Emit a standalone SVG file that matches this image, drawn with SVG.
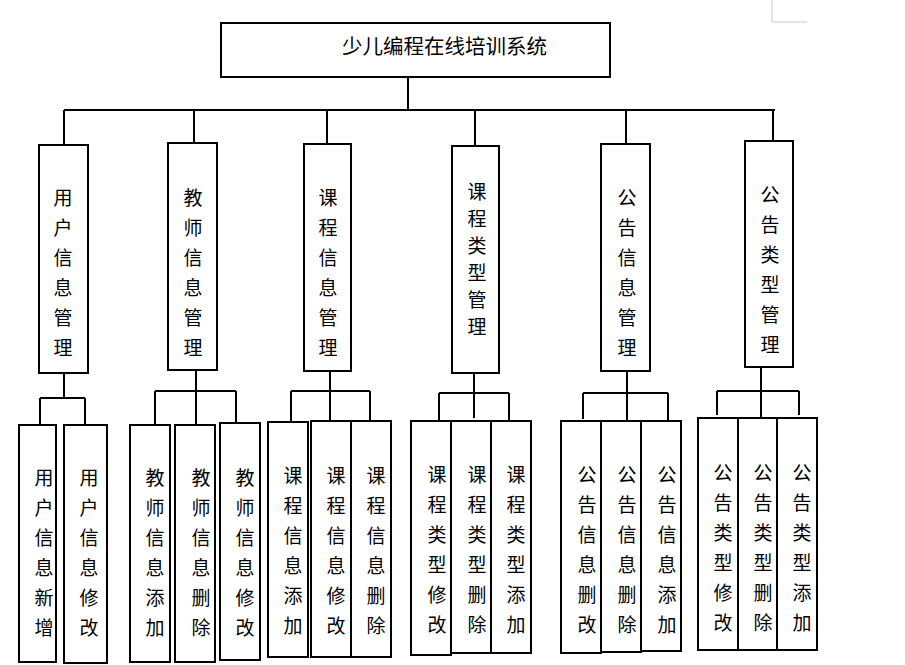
<svg xmlns="http://www.w3.org/2000/svg" width="905" height="665" viewBox="0 0 905 665">
<style>
.b{fill:#fff;stroke:#000;stroke-width:2}
.c{fill:none;stroke:#000;stroke-width:2}
.t{font-family:"Noto Sans CJK SC","Noto Sans",sans-serif;font-size:19px;fill:#000;text-anchor:middle}
.tt{font-family:"Noto Sans CJK SC","Noto Sans",sans-serif;font-size:20.5px;fill:#000}
</style>
<rect width="905" height="665" fill="#fff"/>
<path d="M772 0V22H807" fill="none" stroke="#c8c8c8" stroke-width="1"/>
<g id="connectors" class="c">
<path d="M408 77V110M64 110H775M64 110V145M194 110V143M327 110V144M475 110V146M626 110V144M773 110V141"/>
<path d="M64 373V398M40 398H85M40 398V425M85 398V425"/>
<path d="M196 370V425M155 391H236M155 391V425M236 391V423"/>
<path d="M330 371V421M291 391H370M291 391V422M370 391V421"/>
<path d="M474 373V418M439 393H509M439 393V421M509 393V421"/>
<path d="M627 371V421M583 393H668M583 393V419M668 393V421"/>
<path d="M761 367V418M717 391H799M717 391V415M799 391V415"/>
</g>
<g id="root"><rect class="b" x="221" y="23" width="389" height="54"/><text class="tt" x="342" y="54">少儿编程在线培训系统</text></g>

<g id="n1"><rect class="b" x="39" y="145" width="49" height="228"/><text class="t" y="205"><tspan x="63">用</tspan><tspan x="63" dy="30">户</tspan><tspan x="63" dy="30">信</tspan><tspan x="63" dy="30">息</tspan><tspan x="63" dy="30">管</tspan><tspan x="63" dy="30">理</tspan></text></g>
<g id="n2"><rect class="b" x="168" y="143" width="49" height="227"/><text class="t" y="205"><tspan x="193">教</tspan><tspan x="193" dy="30">师</tspan><tspan x="193" dy="30">信</tspan><tspan x="193" dy="30">息</tspan><tspan x="193" dy="30">管</tspan><tspan x="193" dy="30">理</tspan></text></g>
<g id="n3"><rect class="b" x="304" y="144" width="47" height="227"/><text class="t" y="205"><tspan x="328">课</tspan><tspan x="328" dy="30">程</tspan><tspan x="328" dy="30">信</tspan><tspan x="328" dy="30">息</tspan><tspan x="328" dy="30">管</tspan><tspan x="328" dy="30">理</tspan></text></g>
<g id="n4"><rect class="b" x="452" y="146" width="47" height="227"/><text class="t" y="199"><tspan x="477">课</tspan><tspan x="477" dy="27">程</tspan><tspan x="477" dy="27">类</tspan><tspan x="477" dy="27">型</tspan><tspan x="477" dy="27">管</tspan><tspan x="477" dy="27">理</tspan></text></g>
<g id="n5"><rect class="b" x="601" y="144" width="49" height="227"/><text class="t" y="205"><tspan x="627">公</tspan><tspan x="627" dy="30">告</tspan><tspan x="627" dy="30">信</tspan><tspan x="627" dy="30">息</tspan><tspan x="627" dy="30">管</tspan><tspan x="627" dy="30">理</tspan></text></g>
<g id="n6"><rect class="b" x="745" y="141" width="48" height="226"/><text class="t" y="202"><tspan x="770">公</tspan><tspan x="770" dy="30">告</tspan><tspan x="770" dy="30">类</tspan><tspan x="770" dy="30">型</tspan><tspan x="770" dy="30">管</tspan><tspan x="770" dy="30">理</tspan></text></g>

<g id="u1"><rect class="b" x="19" y="425" width="37" height="237"/><text class="t" y="485"><tspan x="44">用</tspan><tspan x="44" dy="30">户</tspan><tspan x="44" dy="30">信</tspan><tspan x="44" dy="30">息</tspan><tspan x="44" dy="30">新</tspan><tspan x="44" dy="30">增</tspan></text></g>
<g id="u2"><rect class="b" x="64" y="425" width="43" height="238"/><text class="t" y="485"><tspan x="89">用</tspan><tspan x="89" dy="30">户</tspan><tspan x="89" dy="30">信</tspan><tspan x="89" dy="30">息</tspan><tspan x="89" dy="30">修</tspan><tspan x="89" dy="30">改</tspan></text></g>

<g id="t1"><rect class="b" x="130" y="425" width="40" height="237"/><text class="t" y="485"><tspan x="155">教</tspan><tspan x="155" dy="30">师</tspan><tspan x="155" dy="30">信</tspan><tspan x="155" dy="30">息</tspan><tspan x="155" dy="30">添</tspan><tspan x="155" dy="30">加</tspan></text></g>
<g id="t2"><rect class="b" x="175" y="425" width="40" height="237"/><text class="t" y="485"><tspan x="201">教</tspan><tspan x="201" dy="30">师</tspan><tspan x="201" dy="30">信</tspan><tspan x="201" dy="30">息</tspan><tspan x="201" dy="30">删</tspan><tspan x="201" dy="30">除</tspan></text></g>
<g id="t3"><rect class="b" x="220" y="423" width="40" height="237"/><text class="t" y="485"><tspan x="245">教</tspan><tspan x="245" dy="30">师</tspan><tspan x="245" dy="30">信</tspan><tspan x="245" dy="30">息</tspan><tspan x="245" dy="30">修</tspan><tspan x="245" dy="30">改</tspan></text></g>

<g id="c1"><rect class="b" x="268" y="422" width="40" height="235"/><text class="t" y="483"><tspan x="293">课</tspan><tspan x="293" dy="30">程</tspan><tspan x="293" dy="30">信</tspan><tspan x="293" dy="30">息</tspan><tspan x="293" dy="30">添</tspan><tspan x="293" dy="30">加</tspan></text></g>
<g id="c2"><rect class="b" x="311" y="421" width="40" height="236"/><text class="t" y="483"><tspan x="336">课</tspan><tspan x="336" dy="30">程</tspan><tspan x="336" dy="30">信</tspan><tspan x="336" dy="30">息</tspan><tspan x="336" dy="30">修</tspan><tspan x="336" dy="30">改</tspan></text></g>
<g id="c3"><rect class="b" x="351" y="421" width="40" height="236"/><text class="t" y="483"><tspan x="376">课</tspan><tspan x="376" dy="30">程</tspan><tspan x="376" dy="30">信</tspan><tspan x="376" dy="30">息</tspan><tspan x="376" dy="30">删</tspan><tspan x="376" dy="30">除</tspan></text></g>

<g id="k1"><rect class="b" x="411" y="421" width="40" height="234"/><text class="t" y="482"><tspan x="437">课</tspan><tspan x="437" dy="30">程</tspan><tspan x="437" dy="30">类</tspan><tspan x="437" dy="30">型</tspan><tspan x="437" dy="30">修</tspan><tspan x="437" dy="30">改</tspan></text></g>
<g id="k2"><rect class="b" x="451" y="421" width="40" height="232"/><text class="t" y="482"><tspan x="477">课</tspan><tspan x="477" dy="30">程</tspan><tspan x="477" dy="30">类</tspan><tspan x="477" dy="30">型</tspan><tspan x="477" dy="30">删</tspan><tspan x="477" dy="30">除</tspan></text></g>
<g id="k3"><rect class="b" x="491" y="421" width="40" height="232"/><text class="t" y="482"><tspan x="516">课</tspan><tspan x="516" dy="30">程</tspan><tspan x="516" dy="30">类</tspan><tspan x="516" dy="30">型</tspan><tspan x="516" dy="30">添</tspan><tspan x="516" dy="30">加</tspan></text></g>

<g id="g1"><rect class="b" x="561" y="421" width="40" height="232"/><text class="t" y="482"><tspan x="587">公</tspan><tspan x="587" dy="30">告</tspan><tspan x="587" dy="30">信</tspan><tspan x="587" dy="30">息</tspan><tspan x="587" dy="30">删</tspan><tspan x="587" dy="30">改</tspan></text></g>
<g id="g2"><rect class="b" x="601" y="421" width="40" height="231"/><text class="t" y="482"><tspan x="627">公</tspan><tspan x="627" dy="30">告</tspan><tspan x="627" dy="30">信</tspan><tspan x="627" dy="30">息</tspan><tspan x="627" dy="30">删</tspan><tspan x="627" dy="30">除</tspan></text></g>
<g id="g3"><rect class="b" x="641" y="421" width="40" height="230"/><text class="t" y="482"><tspan x="667">公</tspan><tspan x="667" dy="30">告</tspan><tspan x="667" dy="30">信</tspan><tspan x="667" dy="30">息</tspan><tspan x="667" dy="30">添</tspan><tspan x="667" dy="30">加</tspan></text></g>

<g id="y1"><rect class="b" x="698" y="418" width="40" height="232"/><text class="t" y="480"><tspan x="723">公</tspan><tspan x="723" dy="30">告</tspan><tspan x="723" dy="30">类</tspan><tspan x="723" dy="30">型</tspan><tspan x="723" dy="30">修</tspan><tspan x="723" dy="30">改</tspan></text></g>
<g id="y2"><rect class="b" x="738" y="418" width="39" height="232"/><text class="t" y="480"><tspan x="763">公</tspan><tspan x="763" dy="30">告</tspan><tspan x="763" dy="30">类</tspan><tspan x="763" dy="30">型</tspan><tspan x="763" dy="30">删</tspan><tspan x="763" dy="30">除</tspan></text></g>
<g id="y3"><rect class="b" x="777" y="418" width="40" height="232"/><text class="t" y="480"><tspan x="802">公</tspan><tspan x="802" dy="30">告</tspan><tspan x="802" dy="30">类</tspan><tspan x="802" dy="30">型</tspan><tspan x="802" dy="30">添</tspan><tspan x="802" dy="30">加</tspan></text></g>
</svg>
